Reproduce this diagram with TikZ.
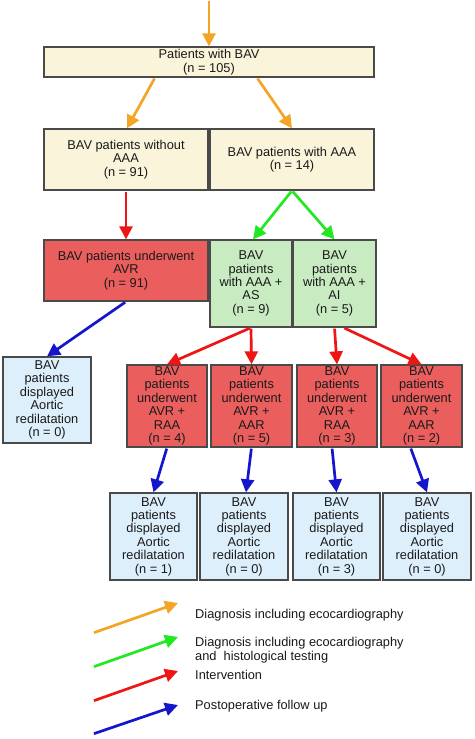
\documentclass[tikz,border=0pt]{standalone}
\usepackage{fontspec}
\setmainfont{Liberation Sans}
\usetikzlibrary{arrows.meta}
\definecolor{cream}{HTML}{FAF4DA}
\definecolor{redbox}{HTML}{EA5F5E}
\definecolor{greenbox}{HTML}{C9EBC1}
\definecolor{bluebox}{HTML}{DDEFFB}
\definecolor{edge}{HTML}{4A4A4A}
\definecolor{txt}{HTML}{1A1A1A}
\definecolor{aorange}{HTML}{F5A526}
\definecolor{agreen}{HTML}{22E822}
\definecolor{ared}{HTML}{EE1515}
\definecolor{ablue}{HTML}{1515CC}
\tikzset{
  box/.style={draw=edge, line width=1.3pt, inner sep=0pt, align=center, text=txt,
    font=\fontsize{12.8}{13.4}\selectfont},
  cbox/.style={box, fill=cream},
  rbox/.style={box, fill=redbox},
  gbox/.style={box, fill=greenbox},
  bbox/.style={box, fill=bluebox},
  arr/.style={line width=2.7pt, -{Triangle[length=13pt,width=13pt]}, shorten <=1pt},
  oarr/.style={arr, aorange},
  garr/.style={arr, agreen},
  rarr/.style={arr, ared},
  barr/.style={arr, ablue},
  legtext/.style={anchor=west, align=left, inner sep=0pt, text=txt,
    font=\fontsize{12.8}{14}\selectfont},
}
\begin{document}
\begin{tikzpicture}[x=1pt,y=-1pt]
\useasboundingbox[fill=white] (0,0) rectangle (474,739);
% boxes
\node[cbox, minimum width=330pt, minimum height=30pt] (top) at (209,62) {Patients with BAV\\(n = 105)};
\node[cbox, minimum width=164pt, minimum height=61pt] (nA) at (126,159.5) {BAV patients without\\AAA\\(n = 91)};
\node[cbox, minimum width=164pt, minimum height=61pt] (wA) at (292,159.5) {BAV patients with AAA\\(n = 14)};
\node[rbox, minimum width=164pt, minimum height=61pt] (avr) at (126,270.5) {BAV patients underwent\\AVR\\(n = 91)};
\node[gbox, minimum width=82pt, minimum height=87pt] (as) at (251,283.5) {BAV\\patients\\with AAA +\\AS\\(n = 9)};
\node[gbox, minimum width=83pt, minimum height=87pt] (ai) at (334.5,283.5) {BAV\\patients\\with AAA +\\AI\\(n = 5)};
\node[bbox, minimum width=88pt, minimum height=86pt] (b0) at (47,400) {BAV\\patients\\displayed\\Aortic\\redilatation\\(n = 0)};
\node[rbox, minimum width=80pt, minimum height=82pt] (r1) at (167,406) {BAV\\patients\\underwent\\AVR +\\RAA\\(n = 4)};
\node[rbox, minimum width=81pt, minimum height=82pt] (r2) at (251.5,406) {BAV\\patients\\underwent\\AVR +\\AAR\\(n = 5)};
\node[rbox, minimum width=80pt, minimum height=82pt] (r3) at (337,406) {BAV\\patients\\underwent\\AVR +\\RAA\\(n = 3)};
\node[rbox, minimum width=81pt, minimum height=82pt] (r4) at (421.5,406) {BAV\\patients\\underwent\\AVR +\\AAR\\(n = 2)};
\node[bbox, minimum width=87pt, minimum height=87pt] (b1) at (153.5,536.5) {BAV\\patients\\displayed\\Aortic\\redilatation\\(n = 1)};
\node[bbox, minimum width=88pt, minimum height=87pt] (b2) at (244,536.5) {BAV\\patients\\displayed\\Aortic\\redilatation\\(n = 0)};
\node[bbox, minimum width=87pt, minimum height=87pt] (b3) at (336.5,536.5) {BAV\\patients\\displayed\\Aortic\\redilatation\\(n = 3)};
\node[bbox, minimum width=88pt, minimum height=87pt] (b4) at (427,536.5) {BAV\\patients\\displayed\\Aortic\\redilatation\\(n = 0)};
% connectors
\coordinate (entry) at (209,0);
\draw[oarr] (entry) -- (top.north);
\draw[oarr] ([xshift=-54pt]top.south) -- ([xshift=1pt]nA.north);
\draw[oarr] ([xshift=48pt]top.south) -- (wA.north);
\draw[rarr] (nA.south) -- (avr.north);
\draw[garr] (wA.south) -- ([xshift=2pt]as.north);
\draw[garr] (wA.south) -- (ai.north);
\draw[barr] (avr.south) -- (b0.north);
\draw[rarr] (as.south) -- (r1.north);
\draw[rarr] (as.south) -- (r2.north);
\draw[rarr] (ai.south) -- (r3.north);
\draw[rarr] ([xshift=9pt]ai.south) -- (r4.north);
\draw[barr] (r1.south) -- (b1.north);
\draw[barr] (r2.south) -- ([xshift=2pt]b2.north);
\draw[barr] ([xshift=-5pt]r3.south) -- (b3.north);
\draw[barr] ([xshift=-11pt]r4.south) -- (b4.north);
% legend
\coordinate (l1a) at (93,633); \coordinate (l1b) at (178,603);
\coordinate (l2a) at (93,667); \coordinate (l2b) at (178,637);
\coordinate (l3a) at (93,701); \coordinate (l3b) at (178,671);
\coordinate (l4a) at (93,734); \coordinate (l4b) at (178,705);
\draw[oarr] (l1a) -- (l1b);
\draw[garr] (l2a) -- (l2b);
\draw[rarr] (l3a) -- (l3b);
\draw[barr] (l4a) -- (l4b);
\node[legtext] (t1) at (195,615) {Diagnosis including ecocardiography};
\node[legtext] (t2) at (195,650) {Diagnosis including ecocardiography\\and\ \ histological testing};
\node[legtext] (t3) at (195,675) {Intervention};
\node[legtext] (t4) at (195,706) {Postoperative follow up};
\end{tikzpicture}
\end{document}
